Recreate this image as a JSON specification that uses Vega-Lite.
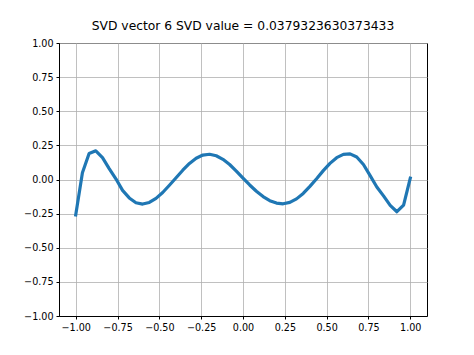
{
  "$schema": "https://vega.github.io/schema/vega-lite/v6.json",
  "autosize": "none",
  "width": 368,
  "height": 273,
  "padding": {"left": 59, "top": 43, "right": 47, "bottom": 39},
  "background": "white",
  "title": {
    "text": "SVD vector 6 SVD value = 0.0379323630373433",
    "font": "DejaVu Sans",
    "fontSize": 12.3,
    "fontWeight": "normal",
    "color": "black",
    "offset": 6,
    "anchor": "middle"
  },
  "config": {
    "view": {"stroke": "black", "strokeWidth": 1},
    "axis": {
      "labelFont": "DejaVu Sans",
      "labelFontSize": 9.6,
      "labelColor": "black",
      "gridColor": "#b0b0b0",
      "gridWidth": 0.8,
      "domainColor": "black",
      "domainWidth": 1,
      "tickColor": "black",
      "tickSize": 3,
      "labelPadding": 3,
      "title": null
    }
  },
  "data": {
    "values": [
      {"x": -1.00, "y": -0.26},
      {"x": -0.96, "y": 0.05},
      {"x": -0.92, "y": 0.19},
      {"x": -0.88, "y": 0.21},
      {"x": -0.84, "y": 0.16},
      {"x": -0.80, "y": 0.08},
      {"x": -0.76, "y": 0.005},
      {"x": -0.72, "y": -0.08},
      {"x": -0.68, "y": -0.135},
      {"x": -0.64, "y": -0.17},
      {"x": -0.60, "y": -0.18},
      {"x": -0.56, "y": -0.168},
      {"x": -0.52, "y": -0.138},
      {"x": -0.48, "y": -0.095},
      {"x": -0.44, "y": -0.042},
      {"x": -0.40, "y": 0.013},
      {"x": -0.36, "y": 0.068},
      {"x": -0.32, "y": 0.118},
      {"x": -0.28, "y": 0.156},
      {"x": -0.24, "y": 0.179},
      {"x": -0.20, "y": 0.185},
      {"x": -0.16, "y": 0.174},
      {"x": -0.12, "y": 0.148},
      {"x": -0.08, "y": 0.11},
      {"x": -0.04, "y": 0.062},
      {"x": 0.00, "y": 0.01},
      {"x": 0.04, "y": -0.04},
      {"x": 0.08, "y": -0.086},
      {"x": 0.12, "y": -0.125},
      {"x": 0.16, "y": -0.155},
      {"x": 0.20, "y": -0.173},
      {"x": 0.24, "y": -0.178},
      {"x": 0.28, "y": -0.168},
      {"x": 0.32, "y": -0.142},
      {"x": 0.36, "y": -0.102},
      {"x": 0.40, "y": -0.05},
      {"x": 0.44, "y": 0.006},
      {"x": 0.48, "y": 0.065},
      {"x": 0.52, "y": 0.118},
      {"x": 0.56, "y": 0.16},
      {"x": 0.60, "y": 0.184},
      {"x": 0.64, "y": 0.188},
      {"x": 0.68, "y": 0.165},
      {"x": 0.72, "y": 0.11},
      {"x": 0.76, "y": 0.028},
      {"x": 0.80, "y": -0.055},
      {"x": 0.84, "y": -0.12},
      {"x": 0.88, "y": -0.19},
      {"x": 0.92, "y": -0.236},
      {"x": 0.96, "y": -0.187},
      {"x": 1.00, "y": 0.01}
    ]
  },
  "mark": {"type": "line", "color": "#1f77b4", "strokeWidth": 3.2, "strokeJoin": "round", "strokeCap": "square"},
  "encoding": {
    "x": {
      "field": "x",
      "type": "quantitative",
      "scale": {"domain": [-1.1, 1.1], "nice": false, "zero": false},
      "axis": {"values": [-1, -0.75, -0.5, -0.25, 0, 0.25, 0.5, 0.75, 1], "format": ".2f", "grid": true, "labelFlush": false}
    },
    "y": {
      "field": "y",
      "type": "quantitative",
      "scale": {"domain": [-1, 1], "nice": false},
      "axis": {"values": [-1, -0.75, -0.5, -0.25, 0, 0.25, 0.5, 0.75, 1], "format": ".2f", "grid": true, "labelFlush": false}
    }
  }
}
